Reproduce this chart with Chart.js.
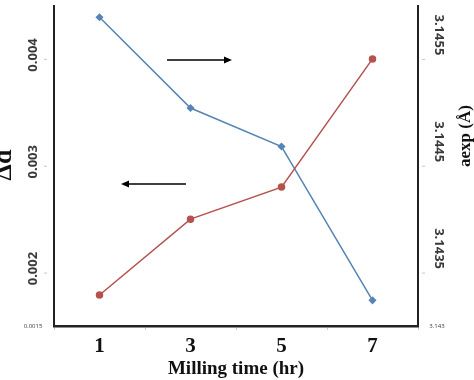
<!DOCTYPE html>
<html><head><meta charset="utf-8">
<script src="https://cdn.jsdelivr.net/npm/chart.js@4.4.1/dist/chart.umd.min.js"></script>
<style>html,body{margin:0;padding:0;background:#fff}#wrap{width:474px;height:380px}</style>
</head><body><div id="wrap"><canvas id="c" width="474" height="380"></canvas></div>
<script>
const categories = ['1','3','5','7'];
const deltaD = [0.00179, 0.0025, 0.0028, 0.0040];
const aExp = [3.14589, 3.14504, 3.14468, 3.14324];
const leftTicks = [0.002, 0.003, 0.004];
const leftMinorTicks = [0.0015];
const rightTicks = [3.1435, 3.1445, 3.1455];
const rightMinorTicks = [3.143];
const xTitle = 'Milling time (hr)';
const yLeftTitle = 'Δd';
const yRightTitle = 'aexp (Å)';

const overlay = {
  id: 'overlay',
  afterDraw(chart) {
    const ctx = chart.ctx, yl = chart.scales.y, yr = chart.scales.y1;
    ctx.save();
    ctx.fillStyle = '#3a3a3a';
    ctx.font = 'bold 13px "Open Sans", sans-serif';
    ctx.textAlign = 'center'; ctx.textBaseline = 'middle';
    leftTicks.forEach(v => {
      const py = yl.getPixelForValue(v);
      ctx.save(); ctx.translate(33, py - 4); ctx.rotate(-Math.PI/2); ctx.fillText(v.toFixed(3), 0, 0); ctx.restore();
      ctx.strokeStyle = '#c8c8c8'; ctx.lineWidth = 1; ctx.beginPath(); ctx.moveTo(44, py+0.5); ctx.lineTo(47, py+0.5); ctx.stroke();
    });
    ctx.font = '6px "Open Sans", sans-serif';
    leftMinorTicks.forEach(v => { ctx.fillText(String(v), 33, yl.getPixelForValue(v)); });
    ctx.font = 'bold 13px "Open Sans", sans-serif';
    rightTicks.forEach(v => {
      const py = yr.getPixelForValue(v);
      ctx.save(); ctx.translate(439, py - 24); ctx.rotate(Math.PI/2); ctx.fillText(v.toFixed(4), 0, 0); ctx.restore();
      ctx.strokeStyle = '#c8c8c8'; ctx.lineWidth = 1; ctx.beginPath(); ctx.moveTo(422, py+0.5); ctx.lineTo(425, py+0.5); ctx.stroke();
    });
    ctx.font = '6px "Open Sans", sans-serif';
    rightMinorTicks.forEach(v => { ctx.fillText(v.toFixed(3), 437, yr.getPixelForValue(v)); });
    ctx.fillStyle = '#111';
    ctx.font = 'bold 26px "Liberation Serif", serif';
    ctx.save(); ctx.translate(4, 165); ctx.rotate(-Math.PI/2); ctx.fillText(yLeftTitle, 0, 0); ctx.restore();
    ctx.font = 'bold 17px "Liberation Serif", serif';
    ctx.save(); ctx.translate(466, 136); ctx.rotate(-Math.PI/2); ctx.fillText(yRightTitle, 0, 0); ctx.restore();
    function arrow(x1, y1, x2, y2) {
      ctx.strokeStyle = '#000'; ctx.fillStyle = '#000'; ctx.lineWidth = 1.5;
      const dir = Math.sign(x2 - x1);
      ctx.beginPath(); ctx.moveTo(x1, y1); ctx.lineTo(x2 - dir*6, y2); ctx.stroke();
      ctx.beginPath(); ctx.moveTo(x2, y2); ctx.lineTo(x2 - dir*8, y2 - 3.5); ctx.lineTo(x2 - dir*8, y2 + 3.5); ctx.closePath(); ctx.fill();
    }
    arrow(167, 60, 232, 60);
    arrow(186, 184, 121, 184);
    ctx.restore();
  }
};

new Chart(document.getElementById('c'), {
  type: 'line',
  data: {
    labels: categories,
    datasets: [
      { label: yLeftTitle, data: deltaD, yAxisID: 'y', borderColor: '#b5524e', backgroundColor: '#b5524e',
        borderWidth: 1.5, pointRadius: 3, pointStyle: 'circle', tension: 0 },
      { label: yRightTitle, data: aExp, yAxisID: 'y1', borderColor: '#5585b5', backgroundColor: '#5585b5',
        borderWidth: 1.5, pointRadius: 3, pointStyle: 'rectRot', tension: 0 }
    ]
  },
  options: {
    responsive: false, animation: false,
    layout: { padding: { top: 4.5, left: 0, right: 0, bottom: 0 } },
    plugins: { legend: { display: false }, tooltip: { enabled: false } },
    scales: {
      x: {
        offset: true,
        grid: { display: true, drawOnChartArea: false, drawTicks: true, tickLength: 4, color: '#ccc', offset: true },
        border: { display: true, color: '#222', width: 2.5 },
        ticks: { color: '#111', font: { family: 'Liberation Serif', weight: 'bold', size: 21 }, padding: 4 },
        title: { display: true, text: xTitle, color: '#111', font: { family: 'Liberation Serif', weight: 'bold', size: 19 }, padding: { top: -4, bottom: 0 } },
        afterFit(s) { s.height = 54; }
      },
      y: {
        position: 'left', min: 0.0015, max: 0.0045,
        grid: { display: false },
        border: { display: true, color: '#222', width: 2 },
        ticks: { display: false },
        afterFit(s) { s.width = 54; }
      },
      y1: {
        position: 'right', min: 3.143, max: 3.146,
        grid: { display: false },
        border: { display: true, color: '#222', width: 2 },
        ticks: { display: false },
        afterFit(s) { s.width = 56; }
      }
    }
  },
  plugins: [overlay]
});
</script></body></html>
